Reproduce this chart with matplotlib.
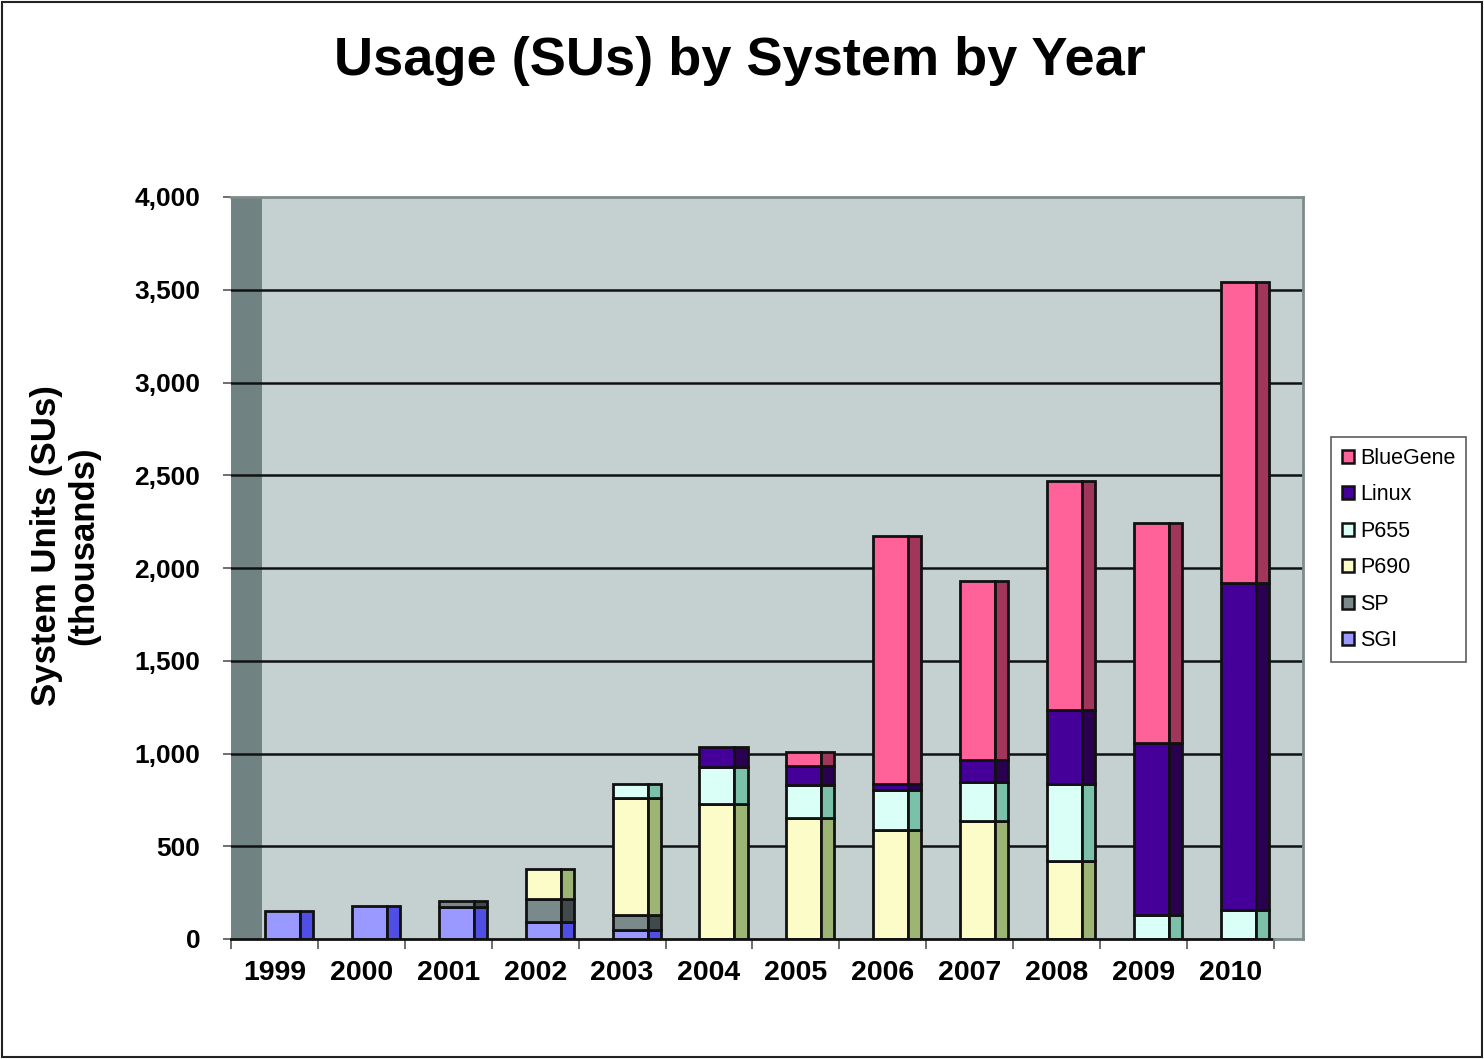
import matplotlib
matplotlib.use("Agg")
import matplotlib.pyplot as plt
from matplotlib.patches import Patch
from matplotlib.ticker import FuncFormatter, MultipleLocator
import numpy as np

plt.rcParams['font.family'] = ['Liberation Sans', 'DejaVu Sans']

# Data (thousands of SUs)
years = ['1999', '2000', '2001', '2002', '2003', '2004',
         '2005', '2006', '2007', '2008', '2009', '2010']
sgi = [150, 178, 175, 93, 50, 0, 0, 0, 0, 0, 0, 0]
sp = [0, 0, 30, 121, 79, 0, 0, 0, 0, 0, 0, 0]
p690 = [0, 0, 0, 162, 629, 726, 650, 587, 638, 420, 0, 0]
p655 = [0, 0, 0, 0, 77, 199, 180, 216, 210, 416, 128, 158]
linux = [0, 0, 0, 0, 0, 108, 102, 31, 117, 400, 930, 1759]
bluegene = [0, 0, 0, 0, 0, 0, 74, 1341, 965, 1233, 1186, 1624]

series = [
    ('SGI', sgi, '#9999FF', '#4F4FE6'),
    ('SP', sp, '#7A8A8A', '#414A4A'),
    ('P690', p690, '#FCFCC8', '#9CB474'),
    ('P655', p655, '#D9FFF6', '#7BC0A8'),
    ('Linux', linux, '#440099', '#2A0050'),
    ('BlueGene', bluegene, '#FF6199', '#A0365A'),
]

W, H = 1484, 1059
fig = plt.figure(figsize=(W / 100, H / 100), dpi=100)
fig.patch.set_facecolor('white')

# outer frame
fig.add_artist(plt.Rectangle((0.0015, 0.002), 0.997, 0.996, transform=fig.transFigure,
                             fill=False, edgecolor='#222222', linewidth=1.5))

ax = fig.add_axes([231 / W, 1 - 939 / H, (1303 - 231) / W, (939 - 197) / H])
ax.set_facecolor('#C5D1D0')
cat_px = 86.9
ax.set_xlim(-0.5, -0.5 + (1303 - 231) / cat_px)
ax.set_ylim(0, 4000)

# 3D-ish left wall
ax.axvspan(-0.5, -0.5 + 31 / cat_px, color='#718282', zorder=0.5, lw=0)

# gridlines
for yv in np.arange(500, 4000, 500):
    ax.axhline(yv, color='#111111', lw=1.8, zorder=1)

x = np.arange(len(years))
front_off, front_w, side_w = -0.109, 0.403, 0.15
bottom = np.zeros(len(years))
for name, vals, fc, sc in series:
    vals = np.array(vals, dtype=float)
    m = vals > 0
    ax.bar(x[m] + front_off, vals[m], front_w, bottom=bottom[m], align='edge',
           color=fc, edgecolor='#111111', linewidth=2.0, zorder=3)
    ax.bar(x[m] + front_off + front_w, vals[m], side_w, bottom=bottom[m], align='edge',
           color=sc, edgecolor='#111111', linewidth=2.0, zorder=3)
    bottom += vals

# spines
for s in ['top', 'right']:
    ax.spines[s].set_color('#7F8C8C')
    ax.spines[s].set_linewidth(2)
ax.spines['left'].set_visible(False)
ax.spines['bottom'].set_visible(False)
ax.plot([-0.5, 11.5], [0, 0], color='#111111', lw=2, zorder=4, clip_on=False)
ax.plot([11.5, ax.get_xlim()[1]], [0, 0], color='#7F8C8C', lw=2, zorder=4, clip_on=False)

# y axis
ax.yaxis.set_major_locator(MultipleLocator(500))
ax.yaxis.set_major_formatter(FuncFormatter(lambda v, p: f'{int(v):,}'))
ax.tick_params(axis='y', direction='out', length=6, width=1.2, color='#555555',
               labelsize=19, pad=16)
for lbl in ax.get_yticklabels():
    lbl.set_fontweight('bold')

# x axis: labels at centers, ticks at boundaries
ax.set_xticks(x)
ax.set_xticklabels(years, fontsize=20.5, fontweight='bold')
ax.set_xticks(np.arange(-0.5, 12.0, 1.0), minor=True)
ax.tick_params(axis='x', which='major', length=0, pad=15)
ax.tick_params(axis='x', which='minor', direction='out', length=7, width=1.2, color='#555555')

# title and y label
fig.text(740 / W, 1 - 75 / H, 'Usage (SUs) by System by Year', ha='center', va='baseline',
         fontsize=39, fontweight='bold')
fig.text(65 / W, 1 - 546 / H, 'System Units (SUs)\n(thousands)', rotation=90,
         ha='center', va='center', multialignment='center', fontsize=25,
         fontweight='bold', linespacing=1.15)

# legend
handles = [Patch(facecolor=fc, edgecolor='#111111', linewidth=1.8, label=name)
           for name, vals, fc, sc in reversed(series)]
leg = fig.legend(handles=handles, loc='upper left',
                 bbox_to_anchor=(1331 / W, 1 - 437 / H), borderaxespad=0,
                 fontsize=15.5, frameon=True, fancybox=False,
                 handlelength=0.55, handleheight=0.55, handletextpad=0.3,
                 labelspacing=0.72, borderpad=0.5)
leg.get_frame().set_edgecolor('#333333')
leg.get_frame().set_linewidth(1.2)

fig.savefig('out.png', dpi=100)
